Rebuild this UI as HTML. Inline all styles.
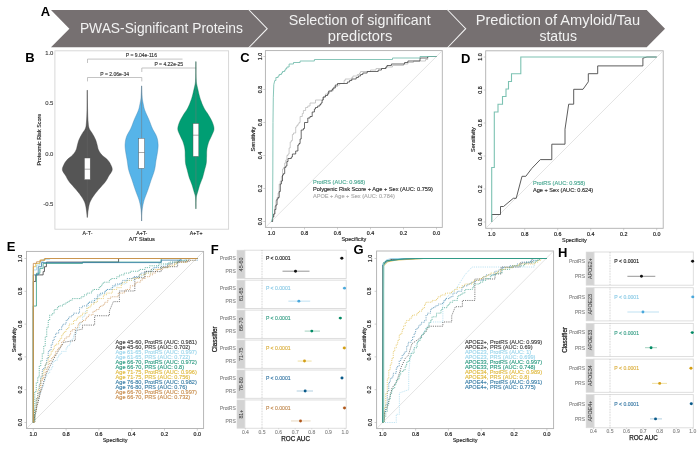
<!DOCTYPE html>
<html><head><meta charset="utf-8"><style>
html,body{margin:0;padding:0;background:#fff;}
body{width:700px;height:449px;overflow:hidden;}
svg{display:block;filter:blur(0.3px);font-family:"Liberation Sans", sans-serif;}
</style></head><body>
<svg width="700" height="449" viewBox="0 0 700 449">
<rect width="700" height="449" fill="#fff"/>
<polygon points="51,10 646.7,10 665,28.7 646.7,47.3 51,47.3 69.4,28.7" fill="#767071"/>
<polyline points="248.6,9.5 267.2,28.7 248.4,48" fill="none" stroke="#f4f4f4" stroke-width="1.05"/>
<polyline points="447.2,9.5 465.7,28.7 447.2,48" fill="none" stroke="#f4f4f4" stroke-width="1.05"/>
<text x="161.4" y="33.2" font-size="14.2" fill="#f2f2f2" text-anchor="middle" textLength="163" lengthAdjust="spacingAndGlyphs">PWAS-Significant Proteins</text>
<text x="359.7" y="25.2" font-size="14.2" fill="#f2f2f2" text-anchor="middle" textLength="142" lengthAdjust="spacingAndGlyphs">Selection of significant</text>
<text x="360" y="41" font-size="14.2" fill="#f2f2f2" text-anchor="middle" textLength="64.5" lengthAdjust="spacingAndGlyphs">predictors</text>
<text x="557.9" y="25.2" font-size="14.2" fill="#f2f2f2" text-anchor="middle" textLength="164.5" lengthAdjust="spacingAndGlyphs">Prediction of Amyloid/Tau</text>
<text x="558.2" y="41" font-size="14.2" fill="#f2f2f2" text-anchor="middle" textLength="37.5" lengthAdjust="spacingAndGlyphs">status</text>
<text x="40.8" y="15.8" font-size="13" font-weight="bold" fill="#000">A</text>
<text x="25.2" y="62.2" font-size="13" font-weight="bold" fill="#000">B</text>
<text x="240.2" y="62.2" font-size="13" font-weight="bold" fill="#000">C</text>
<text x="461" y="62.9" font-size="13" font-weight="bold" fill="#000">D</text>
<text x="6.8" y="251" font-size="13" font-weight="bold" fill="#000">E</text>
<text x="210.8" y="253.6" font-size="13" font-weight="bold" fill="#000">F</text>
<text x="353.5" y="253.6" font-size="13" font-weight="bold" fill="#000">G</text>
<text x="558" y="257.2" font-size="13" font-weight="bold" fill="#000">H</text>
<rect x="54.9" y="50.8" width="173.7" height="178.4" fill="none" stroke="#d4d4d4" stroke-width="0.9"/>
<text x="53.4" y="55" font-size="5.9" fill="#444" text-anchor="end" font-weight="normal" stroke="#444" stroke-width="0.14">1.0</text>
<text x="53.4" y="105.4" font-size="5.9" fill="#444" text-anchor="end" font-weight="normal" stroke="#444" stroke-width="0.14">0.5</text>
<text x="53.4" y="155.7" font-size="5.9" fill="#444" text-anchor="end" font-weight="normal" stroke="#444" stroke-width="0.14">0.0</text>
<text x="53.4" y="206.1" font-size="5.9" fill="#444" text-anchor="end" font-weight="normal" stroke="#444" stroke-width="0.14">-0.5</text>
<text x="40.8" y="139.6" font-size="5.4" fill="#222" text-anchor="middle" font-weight="normal" stroke="#222" stroke-width="0.14" transform="rotate(-90 40.8 139.6)">Proteomic Risk Score</text>
<text x="87.5" y="234.8" font-size="5.2" fill="#222" text-anchor="middle" font-weight="normal" stroke="#222" stroke-width="0.14">A-T-</text>
<text x="141.8" y="234.8" font-size="5.2" fill="#222" text-anchor="middle" font-weight="normal" stroke="#222" stroke-width="0.14">A+T-</text>
<text x="196.2" y="234.8" font-size="5.2" fill="#222" text-anchor="middle" font-weight="normal" stroke="#222" stroke-width="0.14">A+T+</text>
<text x="141.8" y="241.2" font-size="5.6" fill="#222" text-anchor="middle" font-weight="normal" stroke="#222" stroke-width="0.14">A/T Status</text>
<path d="M87.5 63 V59.1 H182.5" fill="none" stroke="#aaa" stroke-width="0.7"/>
<path d="M87.5 81.4 V77.5 H141.8 V81.4" fill="none" stroke="#aaa" stroke-width="0.7"/>
<path d="M141.8 72 V68 H196.2" fill="none" stroke="#aaa" stroke-width="0.7"/>
<text x="141.4" y="57" font-size="5" fill="#333" text-anchor="middle" font-weight="normal" stroke="#333" stroke-width="0.14">P = 9.04e-116</text>
<text x="114.7" y="75.5" font-size="5" fill="#333" text-anchor="middle" font-weight="normal" stroke="#333" stroke-width="0.14">P = 2.06e-34</text>
<text x="168.8" y="66.4" font-size="5" fill="#333" text-anchor="middle" font-weight="normal" stroke="#333" stroke-width="0.14">P = 4.22e-25</text>
<path d="M87.25,90.2 L87.24,91.26 L87.23,92.32 L87.22,93.38 L87.21,94.44 L87.2,95.5 L87.19,96.56 L87.18,97.62 L87.17,98.68 L87.16,99.74 L87.15,100.8 L87.14,101.86 L87.13,102.92 L87.12,103.98 L87.1,105.04 L87.08,106.1 L87.06,107.16 L87.04,108.22 L87.02,109.28 L86.99,110.34 L86.96,111.4 L86.93,112.46 L86.9,113.52 L86.86,114.58 L86.82,115.64 L86.78,116.7 L86.73,117.76 L86.67,118.82 L86.61,119.88 L86.54,120.94 L86.46,122 L86.37,123.06 L86.28,124.12 L86.18,125.18 L86.02,126.24 L85.79,127.3 L85.45,128.36 L84.97,129.42 L84.34,130.48 L83.62,131.54 L82.88,132.6 L82.18,133.66 L81.57,134.72 L80.98,135.78 L80.42,136.84 L79.88,137.9 L79.38,138.96 L78.93,140.02 L78.54,141.08 L78.21,142.14 L77.91,143.2 L77.64,144.26 L77.36,145.32 L77.08,146.38 L76.86,147.44 L76.63,148.5 L76.29,149.56 L75.79,150.62 L75.21,151.68 L74.53,152.74 L73.75,153.8 L72.84,154.86 L71.71,155.92 L70.39,156.98 L69.04,158.04 L67.8,159.1 L66.8,160.16 L65.94,161.22 L65.19,162.28 L64.55,163.34 L64,164.4 L63.5,165.46 L63.02,166.52 L62.64,167.58 L62.4,168.64 L62.37,169.7 L62.6,170.76 L63.09,171.82 L63.77,172.88 L64.52,173.94 L65.26,175 L65.9,176.06 L66.48,177.12 L67.03,178.18 L67.61,179.24 L68.23,180.3 L68.94,181.36 L69.76,182.42 L70.65,183.48 L71.59,184.54 L72.55,185.6 L73.49,186.66 L74.41,187.72 L75.34,188.78 L76.27,189.84 L77.19,190.9 L78.07,191.96 L78.91,193.02 L79.72,194.08 L80.5,195.14 L81.26,196.2 L81.97,197.26 L82.63,198.32 L83.26,199.38 L83.83,200.44 L84.35,201.5 L84.78,202.56 L85.13,203.62 L85.42,204.68 L85.67,205.74 L85.88,206.8 L86.06,207.86 L86.24,208.92 L86.41,209.98 L86.55,211.04 L86.68,212.1 L86.8,213.16 L86.91,214.22 L87.02,215.28 L87.13,216.34 L87.25,217.4 L87.35,217.4 L87.47,216.34 L87.58,215.28 L87.69,214.22 L87.8,213.16 L87.92,212.1 L88.05,211.04 L88.19,209.98 L88.36,208.92 L88.54,207.86 L88.72,206.8 L88.93,205.74 L89.18,204.68 L89.47,203.62 L89.82,202.56 L90.25,201.5 L90.77,200.44 L91.34,199.38 L91.97,198.32 L92.63,197.26 L93.34,196.2 L94.1,195.14 L94.88,194.08 L95.69,193.02 L96.53,191.96 L97.41,190.9 L98.33,189.84 L99.26,188.78 L100.19,187.72 L101.11,186.66 L102.05,185.6 L103.01,184.54 L103.95,183.48 L104.84,182.42 L105.66,181.36 L106.37,180.3 L106.99,179.24 L107.57,178.18 L108.12,177.12 L108.7,176.06 L109.34,175 L110.08,173.94 L110.83,172.88 L111.51,171.82 L112,170.76 L112.23,169.7 L112.2,168.64 L111.96,167.58 L111.58,166.52 L111.1,165.46 L110.6,164.4 L110.05,163.34 L109.41,162.28 L108.66,161.22 L107.8,160.16 L106.8,159.1 L105.56,158.04 L104.21,156.98 L102.89,155.92 L101.76,154.86 L100.85,153.8 L100.07,152.74 L99.39,151.68 L98.81,150.62 L98.31,149.56 L97.97,148.5 L97.74,147.44 L97.52,146.38 L97.24,145.32 L96.96,144.26 L96.69,143.2 L96.39,142.14 L96.06,141.08 L95.67,140.02 L95.22,138.96 L94.72,137.9 L94.18,136.84 L93.62,135.78 L93.03,134.72 L92.42,133.66 L91.72,132.6 L90.98,131.54 L90.26,130.48 L89.63,129.42 L89.15,128.36 L88.81,127.3 L88.58,126.24 L88.42,125.18 L88.32,124.12 L88.23,123.06 L88.14,122 L88.06,120.94 L87.99,119.88 L87.93,118.82 L87.87,117.76 L87.82,116.7 L87.78,115.64 L87.74,114.58 L87.7,113.52 L87.67,112.46 L87.64,111.4 L87.61,110.34 L87.58,109.28 L87.56,108.22 L87.54,107.16 L87.52,106.1 L87.5,105.04 L87.48,103.98 L87.47,102.92 L87.46,101.86 L87.45,100.8 L87.44,99.74 L87.43,98.68 L87.42,97.62 L87.41,96.56 L87.4,95.5 L87.39,94.44 L87.38,93.38 L87.37,92.32 L87.36,91.26 L87.35,90.2Z" fill="#555555" stroke="#3a3a3a" stroke-width="0.4"/>
<path d="M141.55,85.9 L141.5,87.03 L141.45,88.15 L141.41,89.28 L141.37,90.4 L141.33,91.53 L141.28,92.66 L141.23,93.78 L141.17,94.91 L141.11,96.03 L141.03,97.16 L140.94,98.28 L140.8,99.41 L140.62,100.54 L140.41,101.66 L140.18,102.79 L139.97,103.91 L139.75,105.04 L139.52,106.17 L139.27,107.29 L138.99,108.42 L138.65,109.54 L138.26,110.67 L137.82,111.79 L137.34,112.92 L136.84,114.05 L136.32,115.17 L135.79,116.3 L135.27,117.42 L134.76,118.55 L134.29,119.68 L133.83,120.8 L133.4,121.93 L132.97,123.05 L132.55,124.18 L132.12,125.3 L131.67,126.43 L131.2,127.56 L130.71,128.68 L130.15,129.81 L129.53,130.93 L128.87,132.06 L128.22,133.19 L127.59,134.31 L127.04,135.44 L126.58,136.56 L126.21,137.69 L125.9,138.81 L125.65,139.94 L125.45,141.07 L125.3,142.19 L125.18,143.32 L125.09,144.44 L125.06,145.57 L125.1,146.69 L125.18,147.82 L125.3,148.95 L125.44,150.07 L125.59,151.2 L125.74,152.32 L125.92,153.45 L126.11,154.58 L126.32,155.7 L126.53,156.83 L126.74,157.95 L126.94,159.08 L127.13,160.21 L127.31,161.33 L127.46,162.46 L127.61,163.58 L127.76,164.71 L127.91,165.83 L128.09,166.96 L128.28,168.09 L128.51,169.21 L128.79,170.34 L129.1,171.46 L129.45,172.59 L129.82,173.72 L130.22,174.84 L130.63,175.97 L131.04,177.09 L131.45,178.22 L131.84,179.34 L132.22,180.47 L132.59,181.6 L132.96,182.72 L133.33,183.85 L133.69,184.97 L134.06,186.1 L134.43,187.23 L134.8,188.35 L135.18,189.48 L135.58,190.6 L135.99,191.73 L136.41,192.85 L136.85,193.98 L137.28,195.11 L137.71,196.23 L138.13,197.36 L138.53,198.48 L138.91,199.61 L139.26,200.74 L139.57,201.86 L139.84,202.99 L140.09,204.11 L140.31,205.24 L140.51,206.36 L140.7,207.49 L140.86,208.62 L141.01,209.74 L141.13,210.87 L141.24,211.99 L141.34,213.12 L141.42,214.25 L141.47,215.37 L141.5,216.5 L141.52,217.62 L141.52,218.75 L141.53,219.87 L141.55,221 L141.65,221 L141.67,219.87 L141.68,218.75 L141.68,217.62 L141.7,216.5 L141.73,215.37 L141.78,214.25 L141.86,213.12 L141.96,211.99 L142.07,210.87 L142.19,209.74 L142.34,208.62 L142.5,207.49 L142.69,206.36 L142.89,205.24 L143.11,204.11 L143.36,202.99 L143.63,201.86 L143.94,200.74 L144.29,199.61 L144.67,198.48 L145.07,197.36 L145.49,196.23 L145.92,195.11 L146.35,193.98 L146.79,192.85 L147.21,191.73 L147.62,190.6 L148.02,189.48 L148.4,188.35 L148.77,187.23 L149.14,186.1 L149.51,184.97 L149.87,183.85 L150.24,182.72 L150.61,181.6 L150.98,180.47 L151.36,179.34 L151.75,178.22 L152.16,177.09 L152.57,175.97 L152.98,174.84 L153.38,173.72 L153.75,172.59 L154.1,171.46 L154.41,170.34 L154.69,169.21 L154.92,168.09 L155.11,166.96 L155.29,165.83 L155.44,164.71 L155.59,163.58 L155.74,162.46 L155.89,161.33 L156.07,160.21 L156.26,159.08 L156.46,157.95 L156.67,156.83 L156.88,155.7 L157.09,154.58 L157.28,153.45 L157.46,152.32 L157.61,151.2 L157.76,150.07 L157.9,148.95 L158.02,147.82 L158.1,146.69 L158.14,145.57 L158.11,144.44 L158.02,143.32 L157.9,142.19 L157.75,141.07 L157.55,139.94 L157.3,138.81 L156.99,137.69 L156.62,136.56 L156.16,135.44 L155.61,134.31 L154.98,133.19 L154.33,132.06 L153.67,130.93 L153.05,129.81 L152.49,128.68 L152,127.56 L151.53,126.43 L151.08,125.3 L150.65,124.18 L150.23,123.05 L149.8,121.93 L149.37,120.8 L148.91,119.68 L148.44,118.55 L147.93,117.42 L147.41,116.3 L146.88,115.17 L146.36,114.05 L145.86,112.92 L145.38,111.79 L144.94,110.67 L144.55,109.54 L144.21,108.42 L143.93,107.29 L143.68,106.17 L143.45,105.04 L143.23,103.91 L143.02,102.79 L142.79,101.66 L142.58,100.54 L142.4,99.41 L142.26,98.28 L142.17,97.16 L142.09,96.03 L142.03,94.91 L141.97,93.78 L141.92,92.66 L141.87,91.53 L141.83,90.4 L141.79,89.28 L141.75,88.15 L141.7,87.03 L141.65,85.9Z" fill="#56b4e9" stroke="#3d7fa8" stroke-width="0.4"/>
<path d="M195.85,61.6 L195.83,62.83 L195.82,64.05 L195.81,65.28 L195.81,66.51 L195.81,67.73 L195.81,68.96 L195.81,70.19 L195.81,71.41 L195.8,72.64 L195.79,73.87 L195.76,75.09 L195.73,76.32 L195.69,77.55 L195.64,78.77 L195.57,80 L195.49,81.23 L195.36,82.45 L195.18,83.68 L194.95,84.91 L194.69,86.13 L194.41,87.36 L194.13,88.59 L193.84,89.81 L193.57,91.04 L193.29,92.27 L193,93.49 L192.7,94.72 L192.38,95.95 L192.04,97.17 L191.66,98.4 L191.26,99.63 L190.83,100.85 L190.38,102.08 L189.91,103.31 L189.41,104.53 L188.87,105.76 L188.3,106.99 L187.68,108.21 L186.97,109.44 L186.18,110.67 L185.35,111.89 L184.52,113.12 L183.73,114.35 L183,115.57 L182.27,116.8 L181.55,118.03 L180.85,119.25 L180.22,120.48 L179.66,121.71 L179.18,122.93 L178.73,124.16 L178.35,125.39 L178.05,126.61 L177.85,127.84 L177.8,129.07 L177.95,130.29 L178.34,131.52 L178.87,132.75 L179.44,133.97 L179.98,135.2 L180.53,136.43 L181.12,137.65 L181.71,138.88 L182.29,140.11 L182.81,141.33 L183.26,142.56 L183.66,143.79 L184.01,145.01 L184.33,146.24 L184.6,147.47 L184.82,148.69 L184.99,149.92 L185.09,151.15 L185.13,152.37 L185.15,153.6 L185.16,154.83 L185.18,156.05 L185.24,157.28 L185.27,158.51 L185.3,159.73 L185.35,160.96 L185.44,162.19 L185.59,163.41 L185.81,164.64 L186.09,165.87 L186.42,167.09 L186.77,168.32 L187.11,169.55 L187.44,170.77 L187.76,172 L188.06,173.23 L188.37,174.45 L188.7,175.68 L189.05,176.91 L189.44,178.13 L189.89,179.36 L190.37,180.59 L190.87,181.81 L191.35,183.04 L191.81,184.27 L192.23,185.49 L192.62,186.72 L192.98,187.95 L193.34,189.17 L193.68,190.4 L194.02,191.63 L194.38,192.85 L194.76,194.08 L195.12,195.31 L195.39,196.53 L195.54,197.76 L195.64,198.99 L195.71,200.21 L195.75,201.44 L195.77,202.67 L195.79,203.89 L195.8,205.12 L195.81,206.35 L195.82,207.57 L195.85,208.8 L195.95,208.8 L195.98,207.57 L195.99,206.35 L196,205.12 L196.01,203.89 L196.03,202.67 L196.05,201.44 L196.09,200.21 L196.16,198.99 L196.26,197.76 L196.41,196.53 L196.68,195.31 L197.04,194.08 L197.42,192.85 L197.78,191.63 L198.12,190.4 L198.46,189.17 L198.82,187.95 L199.18,186.72 L199.57,185.49 L199.99,184.27 L200.45,183.04 L200.93,181.81 L201.43,180.59 L201.91,179.36 L202.36,178.13 L202.75,176.91 L203.1,175.68 L203.43,174.45 L203.74,173.23 L204.04,172 L204.36,170.77 L204.69,169.55 L205.03,168.32 L205.38,167.09 L205.71,165.87 L205.99,164.64 L206.21,163.41 L206.36,162.19 L206.45,160.96 L206.5,159.73 L206.53,158.51 L206.56,157.28 L206.62,156.05 L206.64,154.83 L206.65,153.6 L206.67,152.37 L206.71,151.15 L206.81,149.92 L206.98,148.69 L207.2,147.47 L207.47,146.24 L207.79,145.01 L208.14,143.79 L208.54,142.56 L208.99,141.33 L209.51,140.11 L210.09,138.88 L210.68,137.65 L211.27,136.43 L211.82,135.2 L212.36,133.97 L212.93,132.75 L213.46,131.52 L213.85,130.29 L214,129.07 L213.95,127.84 L213.75,126.61 L213.45,125.39 L213.07,124.16 L212.62,122.93 L212.14,121.71 L211.58,120.48 L210.95,119.25 L210.25,118.03 L209.53,116.8 L208.8,115.57 L208.07,114.35 L207.28,113.12 L206.45,111.89 L205.62,110.67 L204.83,109.44 L204.12,108.21 L203.5,106.99 L202.93,105.76 L202.39,104.53 L201.89,103.31 L201.42,102.08 L200.97,100.85 L200.54,99.63 L200.14,98.4 L199.76,97.17 L199.42,95.95 L199.1,94.72 L198.8,93.49 L198.51,92.27 L198.23,91.04 L197.96,89.81 L197.67,88.59 L197.39,87.36 L197.11,86.13 L196.85,84.91 L196.62,83.68 L196.44,82.45 L196.31,81.23 L196.23,80 L196.16,78.77 L196.11,77.55 L196.07,76.32 L196.04,75.09 L196.01,73.87 L196,72.64 L195.99,71.41 L195.99,70.19 L195.99,68.96 L195.99,67.73 L195.99,66.51 L195.99,65.28 L195.98,64.05 L195.97,62.83 L195.95,61.6Z" fill="#009e73" stroke="#16694f" stroke-width="0.4"/>
<line x1="87.3" y1="90.2" x2="87.3" y2="217.4" stroke="#666" stroke-width="0.5"/>
<line x1="141.6" y1="85.9" x2="141.6" y2="221" stroke="#777" stroke-width="0.5"/>
<line x1="195.9" y1="61.6" x2="195.9" y2="208.8" stroke="#777" stroke-width="0.5"/>
<rect x="84.4" y="158" width="5.8" height="21.7" fill="#fff" stroke="#555" stroke-width="0.45"/>
<line x1="84.4" y1="169.2" x2="90.2" y2="169.2" stroke="#555" stroke-width="0.5"/>
<rect x="138.7" y="138.3" width="5.8" height="30.1" fill="#fff" stroke="#555" stroke-width="0.45"/>
<line x1="138.7" y1="152.5" x2="144.5" y2="152.5" stroke="#555" stroke-width="0.5"/>
<rect x="193" y="123.5" width="5.8" height="32.9" fill="#fff" stroke="#555" stroke-width="0.45"/>
<line x1="193" y1="135.2" x2="198.8" y2="135.2" stroke="#555" stroke-width="0.5"/>
<rect x="265.4" y="50.6" width="176.9" height="176.8" fill="none" stroke="#b0b0b0" stroke-width="0.9"/>
<line x1="265.9" y1="226.9" x2="441.8" y2="51.1" stroke="#d8d8d8" stroke-width="0.7"/>
<line x1="271.5" y1="227.4" x2="271.5" y2="229.4" stroke="#b0b0b0" stroke-width="0.6"/>
<text x="271.5" y="234.6" font-size="5.3" fill="#1e1e1e" text-anchor="middle" font-weight="normal" stroke="#1e1e1e" stroke-width="0.2">1.0</text>
<line x1="304.5" y1="227.4" x2="304.5" y2="229.4" stroke="#b0b0b0" stroke-width="0.6"/>
<text x="304.5" y="234.6" font-size="5.3" fill="#1e1e1e" text-anchor="middle" font-weight="normal" stroke="#1e1e1e" stroke-width="0.2">0.8</text>
<line x1="337.5" y1="227.4" x2="337.5" y2="229.4" stroke="#b0b0b0" stroke-width="0.6"/>
<text x="337.5" y="234.6" font-size="5.3" fill="#1e1e1e" text-anchor="middle" font-weight="normal" stroke="#1e1e1e" stroke-width="0.2">0.6</text>
<line x1="370.5" y1="227.4" x2="370.5" y2="229.4" stroke="#b0b0b0" stroke-width="0.6"/>
<text x="370.5" y="234.6" font-size="5.3" fill="#1e1e1e" text-anchor="middle" font-weight="normal" stroke="#1e1e1e" stroke-width="0.2">0.4</text>
<line x1="403.5" y1="227.4" x2="403.5" y2="229.4" stroke="#b0b0b0" stroke-width="0.6"/>
<text x="403.5" y="234.6" font-size="5.3" fill="#1e1e1e" text-anchor="middle" font-weight="normal" stroke="#1e1e1e" stroke-width="0.2">0.2</text>
<line x1="436.5" y1="227.4" x2="436.5" y2="229.4" stroke="#b0b0b0" stroke-width="0.6"/>
<text x="436.5" y="234.6" font-size="5.3" fill="#1e1e1e" text-anchor="middle" font-weight="normal" stroke="#1e1e1e" stroke-width="0.2">0.0</text>
<line x1="263.4" y1="221.5" x2="265.4" y2="221.5" stroke="#b0b0b0" stroke-width="0.6"/>
<text x="261.5" y="221.5" font-size="5.3" fill="#1e1e1e" text-anchor="middle" font-weight="normal" stroke="#1e1e1e" stroke-width="0.2" transform="rotate(-90 261.5 221.5)">0.0</text>
<line x1="263.4" y1="188.5" x2="265.4" y2="188.5" stroke="#b0b0b0" stroke-width="0.6"/>
<text x="261.5" y="188.5" font-size="5.3" fill="#1e1e1e" text-anchor="middle" font-weight="normal" stroke="#1e1e1e" stroke-width="0.2" transform="rotate(-90 261.5 188.5)">0.2</text>
<line x1="263.4" y1="155.5" x2="265.4" y2="155.5" stroke="#b0b0b0" stroke-width="0.6"/>
<text x="261.5" y="155.5" font-size="5.3" fill="#1e1e1e" text-anchor="middle" font-weight="normal" stroke="#1e1e1e" stroke-width="0.2" transform="rotate(-90 261.5 155.5)">0.4</text>
<line x1="263.4" y1="122.5" x2="265.4" y2="122.5" stroke="#b0b0b0" stroke-width="0.6"/>
<text x="261.5" y="122.5" font-size="5.3" fill="#1e1e1e" text-anchor="middle" font-weight="normal" stroke="#1e1e1e" stroke-width="0.2" transform="rotate(-90 261.5 122.5)">0.6</text>
<line x1="263.4" y1="89.5" x2="265.4" y2="89.5" stroke="#b0b0b0" stroke-width="0.6"/>
<text x="261.5" y="89.5" font-size="5.3" fill="#1e1e1e" text-anchor="middle" font-weight="normal" stroke="#1e1e1e" stroke-width="0.2" transform="rotate(-90 261.5 89.5)">0.8</text>
<line x1="263.4" y1="56.5" x2="265.4" y2="56.5" stroke="#b0b0b0" stroke-width="0.6"/>
<text x="261.5" y="56.5" font-size="5.3" fill="#1e1e1e" text-anchor="middle" font-weight="normal" stroke="#1e1e1e" stroke-width="0.2" transform="rotate(-90 261.5 56.5)">1.0</text>
<text x="254.6" y="139" font-size="5.5" fill="#222" text-anchor="middle" font-weight="normal" stroke="#222" stroke-width="0.14" transform="rotate(-90 254.6 139)">Sensitivity</text>
<text x="353.85" y="240.8" font-size="5.5" fill="#222" text-anchor="middle" font-weight="normal" stroke="#222" stroke-width="0.14">Specificity</text>
<path d="M271.5 221.5L272.6 221.5L272.6 217L273.7 217L273.7 214L274.8 214L274.8 206.5L275.9 206.5L275.9 200.5L277 200.5L277 197.5L278.1 197.5L278.1 193L279.2 193L279.2 184L280.3 184L280.3 181L281.4 181L281.4 176.5L282.5 176.5L282.5 169L283.6 169L283.6 167.5L284.7 167.5L284.7 163L285.8 163L285.8 160L286.9 160L286.9 155.5L288 155.5L288 154L289.1 154L289.1 148L290.2 148L290.2 142L291.3 142L291.3 140.5L292.4 140.5L292.4 134.5L293.5 134.5L293.5 133L295.7 133L295.7 127L296.8 127L296.8 125.5L297.9 125.5L297.9 124L299 124L299 122.5L300.1 122.5L300.1 116.5L302.3 116.5L302.3 113.5L303.4 113.5L303.4 110.5L305.6 110.5L305.6 107.5L307.8 107.5L307.8 106L310 106L310 103L315.5 103L315.5 100L323.2 100L323.2 97L325.4 97L325.4 94L327.6 94L327.6 92.5L329.8 92.5L329.8 91L333.1 91L333.1 88L334.2 88L334.2 86.5L337.5 86.5L337.5 85L339.7 85L339.7 83.5L344.1 83.5L344.1 80.5L345.2 80.5L345.2 79L351.8 79L351.8 77.5L352.9 77.5L352.9 76L357.3 76L357.3 74.5L359.5 74.5L359.5 73L360.6 73L360.6 71.5L370.5 71.5L370.5 70L376 70L376 68.5L385.9 68.5L385.9 67L392.5 67L392.5 65.5L403.5 65.5L403.5 64L407.9 64L407.9 62.5L413.4 62.5L413.4 61L425.5 61L425.5 59.5L427.7 59.5L427.7 56.5L436.5 56.5" fill="none" stroke="#b8b8b8" stroke-width="0.75"/>
<path d="M271.5 221.5L272.6 221.5L272.6 217L273.7 217L273.7 214L274.8 214L274.8 209.5L275.9 209.5L275.9 205L277 205L277 199L278.1 199L278.1 197.5L279.2 197.5L279.2 191.5L280.3 191.5L280.3 184L281.4 184L281.4 181L282.5 181L282.5 175L283.6 175L283.6 173.5L284.7 173.5L284.7 167.5L285.8 167.5L285.8 166L286.9 166L286.9 161.5L288 161.5L288 158.5L291.3 158.5L291.3 157L292.4 157L292.4 154L295.7 154L295.7 151L297.9 151L297.9 145L299 145L299 143.5L300.1 143.5L300.1 139L301.2 139L301.2 130L303.4 130L303.4 128.5L304.5 128.5L304.5 122.5L307.8 122.5L307.8 118L310 118L310 116.5L312.2 116.5L312.2 112L314.4 112L314.4 109L315.5 109L315.5 107.5L317.7 107.5L317.7 106L319.9 106L319.9 104.5L321 104.5L321 103L322.1 103L322.1 100L323.2 100L323.2 97L325.4 97L325.4 95.5L327.6 95.5L327.6 94L328.7 94L328.7 91L332 91L332 89.5L333.1 89.5L333.1 88L335.3 88L335.3 85L337.5 85L337.5 83.5L347.4 83.5L347.4 82L349.6 82L349.6 80.5L351.8 80.5L351.8 79L356.2 79L356.2 77.5L358.4 77.5L358.4 76L360.6 76L360.6 74.5L362.8 74.5L362.8 73L367.2 73L367.2 71.5L378.2 71.5L378.2 70L381.5 70L381.5 68.5L385.9 68.5L385.9 67L387 67L387 65.5L391.4 65.5L391.4 64L404.6 64L404.6 62.5L407.9 62.5L407.9 61L420 61L420 58L427.7 58L427.7 56.5L436.5 56.5" fill="none" stroke="#3a3a3a" stroke-width="0.75"/>
<path d="M271.5 221.5L272.49 218.2L272.82 172L272.99 122.5L273.31 97.75L273.81 84.55L274.8 80.43L275.9 80.5L275.9 77.5L278.1 77.5L278.1 76L279.2 76L279.2 74.5L281.4 74.5L281.4 73L282.5 73L282.5 71.5L284.7 71.5L284.7 70L285.8 70L285.8 68.5L286.9 68.5L286.9 67L289.1 67L289.1 64L293.5 64L293.5 62.5L300.1 62.5L300.1 61L314.4 61L314.4 59.5L392.5 59.5L392.5 58L420 58L420 56.5L436.5 56.5" fill="none" stroke="#72bcac" stroke-width="0.85"/>
<text x="313" y="184.3" font-size="5.6" fill="#4aa892" text-anchor="start" font-weight="normal" stroke="#4aa892" stroke-width="0.14">ProtRS (AUC: 0.968)</text>
<text x="313" y="190.9" font-size="5.6" fill="#2a2a2a" text-anchor="start" font-weight="normal" stroke="#2a2a2a" stroke-width="0.14" textLength="120" lengthAdjust="spacingAndGlyphs">Polygenic Risk Score + Age + Sex (AUC: 0.759)</text>
<text x="313" y="197.5" font-size="5.6" fill="#aaaaaa" text-anchor="start" font-weight="normal" stroke="#aaaaaa" stroke-width="0.14">APOE + Age + Sex (AUC: 0.784)</text>
<rect x="485.7" y="50.8" width="177.5" height="177.5" fill="none" stroke="#b0b0b0" stroke-width="0.9"/>
<line x1="486.2" y1="227.8" x2="662.7" y2="51.3" stroke="#d8d8d8" stroke-width="0.7"/>
<line x1="491.7" y1="228.3" x2="491.7" y2="230.3" stroke="#b0b0b0" stroke-width="0.6"/>
<text x="491.7" y="235.6" font-size="5.3" fill="#1e1e1e" text-anchor="middle" font-weight="normal" stroke="#1e1e1e" stroke-width="0.2">1.0</text>
<line x1="524.7" y1="228.3" x2="524.7" y2="230.3" stroke="#b0b0b0" stroke-width="0.6"/>
<text x="524.7" y="235.6" font-size="5.3" fill="#1e1e1e" text-anchor="middle" font-weight="normal" stroke="#1e1e1e" stroke-width="0.2">0.8</text>
<line x1="557.7" y1="228.3" x2="557.7" y2="230.3" stroke="#b0b0b0" stroke-width="0.6"/>
<text x="557.7" y="235.6" font-size="5.3" fill="#1e1e1e" text-anchor="middle" font-weight="normal" stroke="#1e1e1e" stroke-width="0.2">0.6</text>
<line x1="590.7" y1="228.3" x2="590.7" y2="230.3" stroke="#b0b0b0" stroke-width="0.6"/>
<text x="590.7" y="235.6" font-size="5.3" fill="#1e1e1e" text-anchor="middle" font-weight="normal" stroke="#1e1e1e" stroke-width="0.2">0.4</text>
<line x1="623.7" y1="228.3" x2="623.7" y2="230.3" stroke="#b0b0b0" stroke-width="0.6"/>
<text x="623.7" y="235.6" font-size="5.3" fill="#1e1e1e" text-anchor="middle" font-weight="normal" stroke="#1e1e1e" stroke-width="0.2">0.2</text>
<line x1="656.7" y1="228.3" x2="656.7" y2="230.3" stroke="#b0b0b0" stroke-width="0.6"/>
<text x="656.7" y="235.6" font-size="5.3" fill="#1e1e1e" text-anchor="middle" font-weight="normal" stroke="#1e1e1e" stroke-width="0.2">0.0</text>
<line x1="483.7" y1="222" x2="485.7" y2="222" stroke="#b0b0b0" stroke-width="0.6"/>
<text x="482.3" y="222" font-size="5.3" fill="#1e1e1e" text-anchor="middle" font-weight="normal" stroke="#1e1e1e" stroke-width="0.2" transform="rotate(-90 482.3 222)">0.0</text>
<line x1="483.7" y1="189" x2="485.7" y2="189" stroke="#b0b0b0" stroke-width="0.6"/>
<text x="482.3" y="189" font-size="5.3" fill="#1e1e1e" text-anchor="middle" font-weight="normal" stroke="#1e1e1e" stroke-width="0.2" transform="rotate(-90 482.3 189)">0.2</text>
<line x1="483.7" y1="156" x2="485.7" y2="156" stroke="#b0b0b0" stroke-width="0.6"/>
<text x="482.3" y="156" font-size="5.3" fill="#1e1e1e" text-anchor="middle" font-weight="normal" stroke="#1e1e1e" stroke-width="0.2" transform="rotate(-90 482.3 156)">0.4</text>
<line x1="483.7" y1="123" x2="485.7" y2="123" stroke="#b0b0b0" stroke-width="0.6"/>
<text x="482.3" y="123" font-size="5.3" fill="#1e1e1e" text-anchor="middle" font-weight="normal" stroke="#1e1e1e" stroke-width="0.2" transform="rotate(-90 482.3 123)">0.6</text>
<line x1="483.7" y1="90" x2="485.7" y2="90" stroke="#b0b0b0" stroke-width="0.6"/>
<text x="482.3" y="90" font-size="5.3" fill="#1e1e1e" text-anchor="middle" font-weight="normal" stroke="#1e1e1e" stroke-width="0.2" transform="rotate(-90 482.3 90)">0.8</text>
<line x1="483.7" y1="57" x2="485.7" y2="57" stroke="#b0b0b0" stroke-width="0.6"/>
<text x="482.3" y="57" font-size="5.3" fill="#1e1e1e" text-anchor="middle" font-weight="normal" stroke="#1e1e1e" stroke-width="0.2" transform="rotate(-90 482.3 57)">1.0</text>
<text x="474.6" y="139.55" font-size="5.5" fill="#222" text-anchor="middle" font-weight="normal" stroke="#222" stroke-width="0.14" transform="rotate(-90 474.6 139.55)">Sensitivity</text>
<text x="574.45" y="241.9" font-size="5.5" fill="#222" text-anchor="middle" font-weight="normal" stroke="#222" stroke-width="0.14">Specificity</text>
<path d="M491.7 222L491.7 214.5L500.5 214.5L500.5 206.5L503.5 206.5L513.3 198.3L516.2 198.3L522 176.3L525.8 176.3L531.8 168.4L540.3 159.6L551.8 159.6L551.8 144.2L565 144.2L565 129.2L568.7 104.2L573.7 104.2L573.7 89.3L583 89.3L588.3 81.8L588.3 73.7L597.7 73.7L597.7 65.9L642.9 65.9L642.9 58.1L647 57L656.7 57" fill="none" stroke="#4a4a4a" stroke-width="0.9"/>
<path d="M491.7 222L491.7 167.5L494.3 167.5L494.3 112L498 112L498 104.2L502.5 104.2L502.5 96.5L506 96.5L506 89L508.5 89L508.5 81.5L511.5 81.5L511.5 73.8L520.8 73.8L520.8 57L656.7 57" fill="none" stroke="#7cc2b2" stroke-width="1.1"/>
<text x="533" y="185.2" font-size="5.6" fill="#4aa892" text-anchor="start" font-weight="normal" stroke="#4aa892" stroke-width="0.14">ProtRS (AUC: 0.958)</text>
<text x="533" y="192.1" font-size="5.6" fill="#2a2a2a" text-anchor="start" font-weight="normal" stroke="#2a2a2a" stroke-width="0.14">Age + Sex (AUC: 0.624)</text>
<rect x="26.5" y="251.4" width="177.1" height="177.1" fill="none" stroke="#b0b0b0" stroke-width="0.9"/>
<line x1="27" y1="428" x2="203.1" y2="251.9" stroke="#d8d8d8" stroke-width="0.7"/>
<line x1="33.3" y1="428.5" x2="33.3" y2="430.5" stroke="#b0b0b0" stroke-width="0.6"/>
<text x="33.3" y="436.2" font-size="5.3" fill="#1e1e1e" text-anchor="middle" font-weight="normal" stroke="#1e1e1e" stroke-width="0.2">1.0</text>
<line x1="66.1" y1="428.5" x2="66.1" y2="430.5" stroke="#b0b0b0" stroke-width="0.6"/>
<text x="66.1" y="436.2" font-size="5.3" fill="#1e1e1e" text-anchor="middle" font-weight="normal" stroke="#1e1e1e" stroke-width="0.2">0.8</text>
<line x1="98.9" y1="428.5" x2="98.9" y2="430.5" stroke="#b0b0b0" stroke-width="0.6"/>
<text x="98.9" y="436.2" font-size="5.3" fill="#1e1e1e" text-anchor="middle" font-weight="normal" stroke="#1e1e1e" stroke-width="0.2">0.6</text>
<line x1="131.7" y1="428.5" x2="131.7" y2="430.5" stroke="#b0b0b0" stroke-width="0.6"/>
<text x="131.7" y="436.2" font-size="5.3" fill="#1e1e1e" text-anchor="middle" font-weight="normal" stroke="#1e1e1e" stroke-width="0.2">0.4</text>
<line x1="164.5" y1="428.5" x2="164.5" y2="430.5" stroke="#b0b0b0" stroke-width="0.6"/>
<text x="164.5" y="436.2" font-size="5.3" fill="#1e1e1e" text-anchor="middle" font-weight="normal" stroke="#1e1e1e" stroke-width="0.2">0.2</text>
<line x1="197.3" y1="428.5" x2="197.3" y2="430.5" stroke="#b0b0b0" stroke-width="0.6"/>
<text x="197.3" y="436.2" font-size="5.3" fill="#1e1e1e" text-anchor="middle" font-weight="normal" stroke="#1e1e1e" stroke-width="0.2">0.0</text>
<line x1="24.5" y1="422.5" x2="26.5" y2="422.5" stroke="#b0b0b0" stroke-width="0.6"/>
<text x="21.7" y="422.5" font-size="5.3" fill="#1e1e1e" text-anchor="middle" font-weight="normal" stroke="#1e1e1e" stroke-width="0.2" transform="rotate(-90 21.7 422.5)">0.0</text>
<line x1="24.5" y1="389.7" x2="26.5" y2="389.7" stroke="#b0b0b0" stroke-width="0.6"/>
<text x="21.7" y="389.7" font-size="5.3" fill="#1e1e1e" text-anchor="middle" font-weight="normal" stroke="#1e1e1e" stroke-width="0.2" transform="rotate(-90 21.7 389.7)">0.2</text>
<line x1="24.5" y1="356.9" x2="26.5" y2="356.9" stroke="#b0b0b0" stroke-width="0.6"/>
<text x="21.7" y="356.9" font-size="5.3" fill="#1e1e1e" text-anchor="middle" font-weight="normal" stroke="#1e1e1e" stroke-width="0.2" transform="rotate(-90 21.7 356.9)">0.4</text>
<line x1="24.5" y1="324.1" x2="26.5" y2="324.1" stroke="#b0b0b0" stroke-width="0.6"/>
<text x="21.7" y="324.1" font-size="5.3" fill="#1e1e1e" text-anchor="middle" font-weight="normal" stroke="#1e1e1e" stroke-width="0.2" transform="rotate(-90 21.7 324.1)">0.6</text>
<line x1="24.5" y1="291.3" x2="26.5" y2="291.3" stroke="#b0b0b0" stroke-width="0.6"/>
<text x="21.7" y="291.3" font-size="5.3" fill="#1e1e1e" text-anchor="middle" font-weight="normal" stroke="#1e1e1e" stroke-width="0.2" transform="rotate(-90 21.7 291.3)">0.8</text>
<line x1="24.5" y1="258.5" x2="26.5" y2="258.5" stroke="#b0b0b0" stroke-width="0.6"/>
<text x="21.7" y="258.5" font-size="5.3" fill="#1e1e1e" text-anchor="middle" font-weight="normal" stroke="#1e1e1e" stroke-width="0.2" transform="rotate(-90 21.7 258.5)">1.0</text>
<text x="16" y="339.95" font-size="5.5" fill="#222" text-anchor="middle" font-weight="normal" stroke="#222" stroke-width="0.14" transform="rotate(-90 16 339.95)">Sensitivity</text>
<text x="115.05" y="442" font-size="5.5" fill="#222" text-anchor="middle" font-weight="normal" stroke="#222" stroke-width="0.14">Specificity</text>
<path d="M33.3 422.5L34.79 422.5L34.79 413.39L36.28 413.39L36.28 402.46L37.77 402.46L37.77 398.81L39.26 398.81L39.26 393.34L40.75 393.34L40.75 389.7L42.25 389.7L42.25 386.06L43.74 386.06L43.74 380.59L45.23 380.59L45.23 376.94L46.72 376.94L46.72 373.3L49.7 373.3L49.7 369.66L51.19 369.66L51.19 367.83L52.68 367.83L52.68 362.37L54.17 362.37L54.17 360.54L57.15 360.54L57.15 356.9L58.65 356.9L58.65 355.08L60.14 355.08L60.14 353.26L61.63 353.26L61.63 351.43L66.1 351.43L66.1 347.79L67.59 347.79L67.59 345.97L69.08 345.97L69.08 344.14L70.57 344.14L70.57 340.5L72.06 340.5L72.06 338.68L73.55 338.68L73.55 335.03L75.05 335.03L75.05 333.21L76.54 333.21L76.54 327.74L79.52 327.74L79.52 324.1L81.01 324.1L81.01 322.28L82.5 322.28L82.5 316.81L83.99 316.81L83.99 314.99L85.48 314.99L85.48 311.34L86.97 311.34L86.97 305.88L88.46 305.88L88.46 302.23L91.45 302.23L91.45 300.41L95.92 300.41L95.92 298.59L98.9 298.59L98.9 294.94L101.88 294.94L101.88 293.12L104.86 293.12L104.86 291.3L106.35 291.3L106.35 289.48L110.83 289.48L110.83 287.66L113.81 287.66L113.81 285.83L118.28 285.83L118.28 284.01L125.74 284.01L125.74 280.37L134.68 280.37L134.68 276.72L142.14 276.72L142.14 274.9L145.12 274.9L145.12 273.08L151.08 273.08L151.08 271.26L152.57 271.26L152.57 267.61L157.05 267.61L157.05 265.79L165.99 265.79L165.99 263.97L177.92 263.97L177.92 262.14L185.37 262.14L185.37 258.5L197.3 258.5" fill="none" stroke="#9cd6ec" stroke-width="0.7" stroke-dasharray="1.1 1.1"/>
<path d="M33.3 422.5L34.79 422.5L34.79 409.74L36.28 409.74L36.28 398.81L37.77 398.81L37.77 389.7L39.26 389.7L39.26 386.06L40.75 386.06L40.75 378.77L42.25 378.77L42.25 373.3L43.74 373.3L43.74 369.66L45.23 369.66L45.23 364.19L46.72 364.19L46.72 362.37L48.21 362.37L48.21 356.9L49.7 356.9L49.7 355.08L51.19 355.08L51.19 351.43L52.68 351.43L52.68 349.61L54.17 349.61L54.17 345.97L55.66 345.97L55.66 344.14L58.65 344.14L58.65 340.5L60.14 340.5L60.14 338.68L61.63 338.68L61.63 335.03L63.12 335.03L63.12 333.21L64.61 333.21L64.61 331.39L66.1 331.39L66.1 329.57L67.59 329.57L67.59 327.74L69.08 327.74L69.08 324.1L73.55 324.1L73.55 320.46L76.54 320.46L76.54 318.63L78.03 318.63L78.03 316.81L81.01 316.81L81.01 314.99L82.5 314.99L82.5 313.17L86.97 313.17L86.97 307.7L89.95 307.7L89.95 305.88L91.45 305.88L91.45 304.06L94.43 304.06L94.43 302.23L97.41 302.23L97.41 298.59L103.37 298.59L103.37 294.94L106.35 294.94L106.35 293.12L112.32 293.12L112.32 289.48L116.79 289.48L116.79 287.66L121.26 287.66L121.26 284.01L122.75 284.01L122.75 282.19L127.23 282.19L127.23 280.37L131.7 280.37L131.7 278.54L139.15 278.54L139.15 274.9L145.12 274.9L145.12 273.08L151.08 273.08L151.08 269.43L160.03 269.43L160.03 267.61L168.97 267.61L168.97 265.79L174.94 265.79L174.94 263.97L176.43 263.97L176.43 262.14L186.86 262.14L186.86 258.5L197.3 258.5" fill="none" stroke="#e0ba40" stroke-width="0.7" stroke-dasharray="1.1 1.1"/>
<path d="M33.3 422.5L34.79 422.5L34.79 409.74L36.28 409.74L36.28 398.81L37.77 398.81L37.77 393.34L39.26 393.34L39.26 384.23L40.75 384.23L40.75 376.94L42.25 376.94L42.25 369.66L43.74 369.66L43.74 367.83L45.23 367.83L45.23 364.19L46.72 364.19L46.72 358.72L48.21 358.72L48.21 351.43L49.7 351.43L49.7 349.61L51.19 349.61L51.19 344.14L52.68 344.14L52.68 340.5L54.17 340.5L54.17 336.86L55.66 336.86L55.66 333.21L58.65 333.21L58.65 329.57L61.63 329.57L61.63 325.92L63.12 325.92L63.12 324.1L66.1 324.1L66.1 320.46L67.59 320.46L67.59 318.63L69.08 318.63L69.08 316.81L72.06 316.81L72.06 314.99L73.55 314.99L73.55 313.17L79.52 313.17L79.52 307.7L82.5 307.7L82.5 305.88L86.97 305.88L86.97 304.06L88.46 304.06L88.46 302.23L94.43 302.23L94.43 298.59L97.41 298.59L97.41 294.94L100.39 294.94L100.39 293.12L104.86 293.12L104.86 291.3L106.35 291.3L106.35 289.48L112.32 289.48L112.32 285.83L115.3 285.83L115.3 284.01L121.26 284.01L121.26 282.19L122.75 282.19L122.75 280.37L127.23 280.37L127.23 278.54L133.19 278.54L133.19 276.72L139.15 276.72L139.15 274.9L140.65 274.9L140.65 273.08L145.12 273.08L145.12 271.26L151.08 271.26L151.08 269.43L154.06 269.43L154.06 267.61L167.48 267.61L167.48 263.97L171.95 263.97L171.95 262.14L179.41 262.14L179.41 260.32L197.3 260.32L197.3 258.5" fill="none" stroke="#3a7fa8" stroke-width="0.7" stroke-dasharray="1.1 1.1"/>
<path d="M33.3 422.5L34.79 422.5L34.79 411.57L36.28 411.57L36.28 404.28L37.77 404.28L37.77 396.99L39.26 396.99L39.26 391.52L40.75 391.52L40.75 380.59L42.25 380.59L42.25 378.77L43.74 378.77L43.74 375.12L45.23 375.12L45.23 371.48L46.72 371.48L46.72 367.83L48.21 367.83L48.21 364.19L49.7 364.19L49.7 360.54L51.19 360.54L51.19 358.72L52.68 358.72L52.68 356.9L54.17 356.9L54.17 355.08L55.66 355.08L55.66 351.43L57.15 351.43L57.15 349.61L58.65 349.61L58.65 347.79L60.14 347.79L60.14 345.97L61.63 345.97L61.63 342.32L63.12 342.32L63.12 340.5L64.61 340.5L64.61 338.68L66.1 338.68L66.1 336.86L69.08 336.86L69.08 335.03L70.57 335.03L70.57 331.39L72.06 331.39L72.06 329.57L75.05 329.57L75.05 327.74L78.03 327.74L78.03 324.1L79.52 324.1L79.52 322.28L82.5 322.28L82.5 320.46L85.48 320.46L85.48 318.63L86.97 318.63L86.97 316.81L88.46 316.81L88.46 314.99L92.94 314.99L92.94 311.34L95.92 311.34L95.92 309.52L98.9 309.52L98.9 307.7L100.39 307.7L100.39 305.88L103.37 305.88L103.37 304.06L104.86 304.06L104.86 302.23L107.85 302.23L107.85 298.59L110.83 298.59L110.83 296.77L118.28 296.77L118.28 293.12L124.25 293.12L124.25 291.3L125.74 291.3L125.74 289.48L130.21 289.48L130.21 285.83L134.68 285.83L134.68 284.01L136.17 284.01L136.17 282.19L140.65 282.19L140.65 280.37L142.14 280.37L142.14 278.54L145.12 278.54L145.12 276.72L149.59 276.72L149.59 274.9L152.57 274.9L152.57 273.08L155.55 273.08L155.55 271.26L157.05 271.26L157.05 269.43L163.01 269.43L163.01 267.61L167.48 267.61L167.48 265.79L168.97 265.79L168.97 263.97L174.94 263.97L174.94 262.14L186.86 262.14L186.86 260.32L195.81 260.32L195.81 258.5L197.3 258.5" fill="none" stroke="#c88c4a" stroke-width="0.7" stroke-dasharray="1.1 1.1"/>
<path d="M33.3 422.5L33.3 420.68L34.79 420.68L34.79 391.52L36.28 391.52L36.28 382.41L37.77 382.41L37.77 376.94L39.26 376.94L39.26 366.01L40.75 366.01L40.75 360.54L42.25 360.54L42.25 353.26L43.74 353.26L43.74 345.97L45.23 345.97L45.23 336.86L46.72 336.86L46.72 327.74L48.21 327.74L48.21 320.46L49.7 320.46L49.7 314.99L52.68 314.99L52.68 313.17L54.17 313.17L54.17 309.52L57.15 309.52L57.15 307.7L58.65 307.7L58.65 305.88L63.12 305.88L63.12 304.06L66.1 304.06L66.1 302.23L69.08 302.23L69.08 300.41L72.06 300.41L72.06 298.59L81.01 298.59L81.01 296.77L83.99 296.77L83.99 294.94L86.97 294.94L86.97 293.12L91.45 293.12L91.45 291.3L92.94 291.3L92.94 289.48L98.9 289.48L98.9 287.66L100.39 287.66L100.39 285.83L101.88 285.83L101.88 284.01L103.37 284.01L103.37 282.19L109.34 282.19L109.34 280.37L110.83 280.37L110.83 278.54L116.79 278.54L116.79 276.72L119.77 276.72L119.77 274.9L124.25 274.9L124.25 273.08L130.21 273.08L130.21 271.26L139.15 271.26L139.15 269.43L145.12 269.43L145.12 267.61L149.59 267.61L149.59 265.79L158.54 265.79L158.54 263.97L168.97 263.97L168.97 262.14L177.92 262.14L177.92 260.32L186.86 260.32L186.86 258.5L197.3 258.5" fill="none" stroke="#2f9c84" stroke-width="0.7" stroke-dasharray="1.1 1.1"/>
<path d="M33.3 422.5L36.25 409.38L40.84 391.34L46.42 373.3L52.98 360.18L60.69 347.06L64.13 342.14L75.28 340.5L75.28 330.66L82.5 329.02L82.5 325.08L94.64 325.08L94.64 315.74L109.4 315.74L109.4 310.98L113.33 301.63L119.4 301.63L119.4 290.97L134.82 290.97L134.82 277.69L144.82 277.69L144.82 271.62L161.22 271.62L161.22 266.7L177.62 266.7L177.62 261.78L189.1 261.78L189.1 258.5L197.3 258.5" fill="none" stroke="#3d3d3d" stroke-width="0.7" stroke-dasharray="1.1 1.1"/>
<path d="M33.3 422.5L33.3 281.46L35.76 281.46L35.76 274.9L43.14 274.9L43.14 271.62L44.45 271.62L44.45 266.7L46.42 266.7L46.42 262.11L118.58 262.11L118.58 258.5L197.3 258.5" fill="none" stroke="#3d3d3d" stroke-width="0.8"/>
<path d="M33.3 422.5L33.3 269.98L36.58 269.98L36.58 265.06L39.86 265.06L39.86 261.78L43.14 261.78L43.14 259.32L49.7 259.32L49.7 258.5L197.3 258.5" fill="none" stroke="#9cd6ec" stroke-width="0.8"/>
<path d="M33.3 422.5L33.3 306.06L36.42 306.06L36.42 273.26L39.86 273.26L39.86 268.34L43.14 268.34L43.14 263.42L46.42 263.42L82.5 263.42L82.5 262.11L161.22 262.11L161.22 258.5L197.3 258.5" fill="none" stroke="#2f9c84" stroke-width="0.8"/>
<path d="M33.3 422.5L33.3 274.9L38.22 274.9L38.22 266.7L41.5 266.7L41.5 262.6L161.22 262.6L161.22 260.14L180.9 260.14L180.9 258.5L197.3 258.5" fill="none" stroke="#3a7fa8" stroke-width="0.8"/>
<path d="M33.3 422.5L33.3 266.7L35.76 266.7L35.76 263.42L39.86 263.42L39.86 260.14L44.78 260.14L44.78 258.5L197.3 258.5" fill="none" stroke="#e0ba40" stroke-width="0.8"/>
<path d="M33.3 422.5L33.3 263.42L36.58 263.42L36.58 261.78L40.68 261.78L40.68 260.14L44.78 260.14L44.78 258.5L197.3 258.5" fill="none" stroke="#c88c4a" stroke-width="0.8"/>
<text x="115.6" y="344.3" font-size="5.6" fill="#3d3d3d" text-anchor="start" font-weight="normal" stroke="#3d3d3d" stroke-width="0.14">Age 45-60, ProtRS (AUC: 0.981)</text>
<text x="115.6" y="349.24" font-size="5.6" fill="#3d3d3d" text-anchor="start" font-weight="normal" stroke="#3d3d3d" stroke-width="0.14">Age 45-60, PRS (AUC: 0.702)</text>
<text x="115.6" y="354.18" font-size="5.6" fill="#9cd6ec" text-anchor="start" font-weight="normal" stroke="#9cd6ec" stroke-width="0.14">Age 61-65, ProtRS (AUC: 0.997)</text>
<text x="115.6" y="359.12" font-size="5.6" fill="#9cd6ec" text-anchor="start" font-weight="normal" stroke="#9cd6ec" stroke-width="0.14">Age 61-65, PRS (AUC: 0.722)</text>
<text x="115.6" y="364.06" font-size="5.6" fill="#2f9c84" text-anchor="start" font-weight="normal" stroke="#2f9c84" stroke-width="0.14">Age 66-70, ProtRS (AUC: 0.972)</text>
<text x="115.6" y="369" font-size="5.6" fill="#2f9c84" text-anchor="start" font-weight="normal" stroke="#2f9c84" stroke-width="0.14">Age 66-70, PRS (AUC: 0.8)</text>
<text x="115.6" y="373.94" font-size="5.6" fill="#e0ba40" text-anchor="start" font-weight="normal" stroke="#e0ba40" stroke-width="0.14">Age 71-75, ProtRS (AUC: 0.996)</text>
<text x="115.6" y="378.88" font-size="5.6" fill="#e0ba40" text-anchor="start" font-weight="normal" stroke="#e0ba40" stroke-width="0.14">Age 71-75, PRS (AUC: 0.756)</text>
<text x="115.6" y="383.82" font-size="5.6" fill="#3a7fa8" text-anchor="start" font-weight="normal" stroke="#3a7fa8" stroke-width="0.14">Age 76-80, ProtRS (AUC: 0.982)</text>
<text x="115.6" y="388.76" font-size="5.6" fill="#3a7fa8" text-anchor="start" font-weight="normal" stroke="#3a7fa8" stroke-width="0.14">Age 76-80, PRS (AUC: 0.76)</text>
<text x="115.6" y="393.7" font-size="5.6" fill="#c88c4a" text-anchor="start" font-weight="normal" stroke="#c88c4a" stroke-width="0.14">Age 66-70, ProtRS (AUC: 0.997)</text>
<text x="115.6" y="398.64" font-size="5.6" fill="#c88c4a" text-anchor="start" font-weight="normal" stroke="#c88c4a" stroke-width="0.14">Age 66-70, PRS (AUC: 0.732)</text>
<rect x="244.8" y="250.2" width="101.4" height="28.3" fill="#fff" stroke="#dadada" stroke-width="0.9"/>
<rect x="237" y="250.2" width="7.8" height="28.3" fill="#d3d3d3" stroke="#dadada" stroke-width="0.6"/>
<text x="242.7" y="264.35" font-size="5.3" fill="#484848" text-anchor="middle" font-weight="normal" stroke="#484848" stroke-width="0.08" transform="rotate(-90 242.7 264.35)">45-60</text>
<line x1="262" y1="250.2" x2="262" y2="278.5" stroke="#999" stroke-width="0.5" stroke-dasharray="0.8 0.8"/>
<text x="235.8" y="260" font-size="5" fill="#8a8a8a" text-anchor="end" font-weight="normal" stroke="#8a8a8a" stroke-width="0.14">ProtRS</text>
<text x="235.8" y="273" font-size="5" fill="#8a8a8a" text-anchor="end" font-weight="normal" stroke="#8a8a8a" stroke-width="0.14">PRS</text>
<text x="265.9" y="260" font-size="5.1" fill="#222222" text-anchor="start" font-weight="normal" stroke="#222222" stroke-width="0.14">P &lt; 0.0001</text>
<line x1="339.85" y1="258.2" x2="343.35" y2="258.2" stroke="#8a8a8a" stroke-width="0.9"/>
<line x1="282.5" y1="271.2" x2="309.5" y2="271.2" stroke="#8a8a8a" stroke-width="0.9"/>
<circle cx="341.85" cy="258.2" r="1.45" fill="#111111"/>
<circle cx="295.53" cy="271.2" r="1.45" fill="#111111"/>
<rect x="244.8" y="280.15" width="101.4" height="28.3" fill="#fff" stroke="#dadada" stroke-width="0.9"/>
<rect x="237" y="280.15" width="7.8" height="28.3" fill="#d3d3d3" stroke="#dadada" stroke-width="0.6"/>
<text x="242.7" y="294.3" font-size="5.3" fill="#484848" text-anchor="middle" font-weight="normal" stroke="#484848" stroke-width="0.08" transform="rotate(-90 242.7 294.3)">61-65</text>
<line x1="262" y1="280.15" x2="262" y2="308.45" stroke="#999" stroke-width="0.5" stroke-dasharray="0.8 0.8"/>
<text x="235.8" y="289.95" font-size="5" fill="#8a8a8a" text-anchor="end" font-weight="normal" stroke="#8a8a8a" stroke-width="0.14">ProtRS</text>
<text x="235.8" y="302.95" font-size="5" fill="#8a8a8a" text-anchor="end" font-weight="normal" stroke="#8a8a8a" stroke-width="0.14">PRS</text>
<text x="265.9" y="289.95" font-size="5.1" fill="#8ccbe6" text-anchor="start" font-weight="normal" stroke="#8ccbe6" stroke-width="0.14">P &lt; 0.0001</text>
<line x1="342.5" y1="288.15" x2="346" y2="288.15" stroke="#b8def0" stroke-width="0.9"/>
<line x1="288.4" y1="301.15" x2="310.2" y2="301.15" stroke="#b8def0" stroke-width="0.9"/>
<circle cx="344.5" cy="288.15" r="1.45" fill="#4aa8dc"/>
<circle cx="298.85" cy="301.15" r="1.45" fill="#4aa8dc"/>
<rect x="244.8" y="310.1" width="101.4" height="28.3" fill="#fff" stroke="#dadada" stroke-width="0.9"/>
<rect x="237" y="310.1" width="7.8" height="28.3" fill="#d3d3d3" stroke="#dadada" stroke-width="0.6"/>
<text x="242.7" y="324.25" font-size="5.3" fill="#484848" text-anchor="middle" font-weight="normal" stroke="#484848" stroke-width="0.08" transform="rotate(-90 242.7 324.25)">66-70</text>
<line x1="262" y1="310.1" x2="262" y2="338.4" stroke="#999" stroke-width="0.5" stroke-dasharray="0.8 0.8"/>
<text x="235.8" y="319.9" font-size="5" fill="#8a8a8a" text-anchor="end" font-weight="normal" stroke="#8a8a8a" stroke-width="0.14">ProtRS</text>
<text x="235.8" y="332.9" font-size="5" fill="#8a8a8a" text-anchor="end" font-weight="normal" stroke="#8a8a8a" stroke-width="0.14">PRS</text>
<text x="265.9" y="319.9" font-size="5.1" fill="#3aa088" text-anchor="start" font-weight="normal" stroke="#3aa088" stroke-width="0.14">P &lt; 0.0001</text>
<line x1="338.35" y1="318.1" x2="341.85" y2="318.1" stroke="#98cdb8" stroke-width="0.9"/>
<line x1="304.7" y1="331.1" x2="320" y2="331.1" stroke="#98cdb8" stroke-width="0.9"/>
<circle cx="340.35" cy="318.1" r="1.45" fill="#008a64"/>
<circle cx="311.8" cy="331.1" r="1.45" fill="#008a64"/>
<rect x="244.8" y="340.05" width="101.4" height="28.3" fill="#fff" stroke="#dadada" stroke-width="0.9"/>
<rect x="237" y="340.05" width="7.8" height="28.3" fill="#d3d3d3" stroke="#dadada" stroke-width="0.6"/>
<text x="242.7" y="354.2" font-size="5.3" fill="#484848" text-anchor="middle" font-weight="normal" stroke="#484848" stroke-width="0.08" transform="rotate(-90 242.7 354.2)">71-75</text>
<line x1="262" y1="340.05" x2="262" y2="368.35" stroke="#999" stroke-width="0.5" stroke-dasharray="0.8 0.8"/>
<text x="235.8" y="349.85" font-size="5" fill="#8a8a8a" text-anchor="end" font-weight="normal" stroke="#8a8a8a" stroke-width="0.14">ProtRS</text>
<text x="235.8" y="362.85" font-size="5" fill="#8a8a8a" text-anchor="end" font-weight="normal" stroke="#8a8a8a" stroke-width="0.14">PRS</text>
<text x="265.9" y="349.85" font-size="5.1" fill="#dcb040" text-anchor="start" font-weight="normal" stroke="#dcb040" stroke-width="0.14">P &lt; 0.0001</text>
<line x1="342.34" y1="348.05" x2="345.84" y2="348.05" stroke="#eedc98" stroke-width="0.9"/>
<line x1="297.7" y1="361.05" x2="311.6" y2="361.05" stroke="#eedc98" stroke-width="0.9"/>
<circle cx="344.34" cy="348.05" r="1.45" fill="#d49e14"/>
<circle cx="304.5" cy="361.05" r="1.45" fill="#d49e14"/>
<rect x="244.8" y="370" width="101.4" height="28.3" fill="#fff" stroke="#dadada" stroke-width="0.9"/>
<rect x="237" y="370" width="7.8" height="28.3" fill="#d3d3d3" stroke="#dadada" stroke-width="0.6"/>
<text x="242.7" y="384.15" font-size="5.3" fill="#484848" text-anchor="middle" font-weight="normal" stroke="#484848" stroke-width="0.08" transform="rotate(-90 242.7 384.15)">76-80</text>
<line x1="262" y1="370" x2="262" y2="398.3" stroke="#999" stroke-width="0.5" stroke-dasharray="0.8 0.8"/>
<text x="235.8" y="379.8" font-size="5" fill="#8a8a8a" text-anchor="end" font-weight="normal" stroke="#8a8a8a" stroke-width="0.14">ProtRS</text>
<text x="235.8" y="392.8" font-size="5" fill="#8a8a8a" text-anchor="end" font-weight="normal" stroke="#8a8a8a" stroke-width="0.14">PRS</text>
<text x="265.9" y="379.8" font-size="5.1" fill="#3a7aa6" text-anchor="start" font-weight="normal" stroke="#3a7aa6" stroke-width="0.14">P &lt; 0.0001</text>
<line x1="340.01" y1="378" x2="343.51" y2="378" stroke="#a8cadc" stroke-width="0.9"/>
<line x1="296.7" y1="391" x2="313" y2="391" stroke="#a8cadc" stroke-width="0.9"/>
<circle cx="342.01" cy="378" r="1.45" fill="#0a5a8a"/>
<circle cx="305.16" cy="391" r="1.45" fill="#0a5a8a"/>
<rect x="244.8" y="399.95" width="101.4" height="28.3" fill="#fff" stroke="#dadada" stroke-width="0.9"/>
<rect x="237" y="399.95" width="7.8" height="28.3" fill="#d3d3d3" stroke="#dadada" stroke-width="0.6"/>
<text x="242.7" y="414.1" font-size="5.3" fill="#484848" text-anchor="middle" font-weight="normal" stroke="#484848" stroke-width="0.08" transform="rotate(-90 242.7 414.1)">81+</text>
<line x1="262" y1="399.95" x2="262" y2="428.25" stroke="#999" stroke-width="0.5" stroke-dasharray="0.8 0.8"/>
<text x="235.8" y="409.75" font-size="5" fill="#8a8a8a" text-anchor="end" font-weight="normal" stroke="#8a8a8a" stroke-width="0.14">ProtRS</text>
<text x="235.8" y="422.75" font-size="5" fill="#8a8a8a" text-anchor="end" font-weight="normal" stroke="#8a8a8a" stroke-width="0.14">PRS</text>
<text x="265.9" y="409.75" font-size="5.1" fill="#c08a50" text-anchor="start" font-weight="normal" stroke="#c08a50" stroke-width="0.14">P &lt; 0.0001</text>
<line x1="342.5" y1="407.95" x2="346" y2="407.95" stroke="#e4d4b8" stroke-width="0.9"/>
<line x1="291" y1="420.95" x2="310.6" y2="420.95" stroke="#e4d4b8" stroke-width="0.9"/>
<circle cx="344.5" cy="407.95" r="1.45" fill="#b0561a"/>
<circle cx="300.51" cy="420.95" r="1.45" fill="#b0561a"/>
<line x1="245.4" y1="428.25" x2="245.4" y2="429.45" stroke="#bbb" stroke-width="0.5"/>
<text x="245.4" y="434.2" font-size="5" fill="#888" text-anchor="middle" font-weight="normal" stroke="#888" stroke-width="0.14">0.4</text>
<line x1="262" y1="428.25" x2="262" y2="429.45" stroke="#bbb" stroke-width="0.5"/>
<text x="262" y="434.2" font-size="5" fill="#888" text-anchor="middle" font-weight="normal" stroke="#888" stroke-width="0.14">0.5</text>
<line x1="278.6" y1="428.25" x2="278.6" y2="429.45" stroke="#bbb" stroke-width="0.5"/>
<text x="278.6" y="434.2" font-size="5" fill="#888" text-anchor="middle" font-weight="normal" stroke="#888" stroke-width="0.14">0.6</text>
<line x1="295.2" y1="428.25" x2="295.2" y2="429.45" stroke="#bbb" stroke-width="0.5"/>
<text x="295.2" y="434.2" font-size="5" fill="#888" text-anchor="middle" font-weight="normal" stroke="#888" stroke-width="0.14">0.7</text>
<line x1="311.8" y1="428.25" x2="311.8" y2="429.45" stroke="#bbb" stroke-width="0.5"/>
<text x="311.8" y="434.2" font-size="5" fill="#888" text-anchor="middle" font-weight="normal" stroke="#888" stroke-width="0.14">0.8</text>
<line x1="328.4" y1="428.25" x2="328.4" y2="429.45" stroke="#bbb" stroke-width="0.5"/>
<text x="328.4" y="434.2" font-size="5" fill="#888" text-anchor="middle" font-weight="normal" stroke="#888" stroke-width="0.14">0.9</text>
<line x1="345" y1="428.25" x2="345" y2="429.45" stroke="#bbb" stroke-width="0.5"/>
<text x="345" y="434.2" font-size="5" fill="#888" text-anchor="middle" font-weight="normal" stroke="#888" stroke-width="0.14">1.0</text>
<text x="295.6" y="440.6" font-size="6.3" fill="#1e1e1e" text-anchor="middle" font-weight="normal" stroke="#1e1e1e" stroke-width="0.25">ROC AUC</text>
<text x="216.6" y="339.23" font-size="6.3" fill="#1e1e1e" text-anchor="middle" font-weight="normal" stroke="#1e1e1e" stroke-width="0.25" transform="rotate(-90 216.6 339.23)">Classifier</text>
<rect x="376.6" y="251" width="177" height="177.6" fill="none" stroke="#b0b0b0" stroke-width="0.9"/>
<line x1="377.1" y1="428.1" x2="553.1" y2="251.5" stroke="#d8d8d8" stroke-width="0.7"/>
<line x1="382.8" y1="428.6" x2="382.8" y2="430.6" stroke="#b0b0b0" stroke-width="0.6"/>
<text x="382.8" y="436.2" font-size="5.3" fill="#1e1e1e" text-anchor="middle" font-weight="normal" stroke="#1e1e1e" stroke-width="0.2">1.0</text>
<line x1="415.62" y1="428.6" x2="415.62" y2="430.6" stroke="#b0b0b0" stroke-width="0.6"/>
<text x="415.62" y="436.2" font-size="5.3" fill="#1e1e1e" text-anchor="middle" font-weight="normal" stroke="#1e1e1e" stroke-width="0.2">0.8</text>
<line x1="448.44" y1="428.6" x2="448.44" y2="430.6" stroke="#b0b0b0" stroke-width="0.6"/>
<text x="448.44" y="436.2" font-size="5.3" fill="#1e1e1e" text-anchor="middle" font-weight="normal" stroke="#1e1e1e" stroke-width="0.2">0.6</text>
<line x1="481.26" y1="428.6" x2="481.26" y2="430.6" stroke="#b0b0b0" stroke-width="0.6"/>
<text x="481.26" y="436.2" font-size="5.3" fill="#1e1e1e" text-anchor="middle" font-weight="normal" stroke="#1e1e1e" stroke-width="0.2">0.4</text>
<line x1="514.08" y1="428.6" x2="514.08" y2="430.6" stroke="#b0b0b0" stroke-width="0.6"/>
<text x="514.08" y="436.2" font-size="5.3" fill="#1e1e1e" text-anchor="middle" font-weight="normal" stroke="#1e1e1e" stroke-width="0.2">0.2</text>
<line x1="546.9" y1="428.6" x2="546.9" y2="430.6" stroke="#b0b0b0" stroke-width="0.6"/>
<text x="546.9" y="436.2" font-size="5.3" fill="#1e1e1e" text-anchor="middle" font-weight="normal" stroke="#1e1e1e" stroke-width="0.2">0.0</text>
<line x1="374.6" y1="422.5" x2="376.6" y2="422.5" stroke="#b0b0b0" stroke-width="0.6"/>
<text x="371.5" y="422.5" font-size="5.3" fill="#1e1e1e" text-anchor="middle" font-weight="normal" stroke="#1e1e1e" stroke-width="0.2" transform="rotate(-90 371.5 422.5)">0.0</text>
<line x1="374.6" y1="389.7" x2="376.6" y2="389.7" stroke="#b0b0b0" stroke-width="0.6"/>
<text x="371.5" y="389.7" font-size="5.3" fill="#1e1e1e" text-anchor="middle" font-weight="normal" stroke="#1e1e1e" stroke-width="0.2" transform="rotate(-90 371.5 389.7)">0.2</text>
<line x1="374.6" y1="356.9" x2="376.6" y2="356.9" stroke="#b0b0b0" stroke-width="0.6"/>
<text x="371.5" y="356.9" font-size="5.3" fill="#1e1e1e" text-anchor="middle" font-weight="normal" stroke="#1e1e1e" stroke-width="0.2" transform="rotate(-90 371.5 356.9)">0.4</text>
<line x1="374.6" y1="324.1" x2="376.6" y2="324.1" stroke="#b0b0b0" stroke-width="0.6"/>
<text x="371.5" y="324.1" font-size="5.3" fill="#1e1e1e" text-anchor="middle" font-weight="normal" stroke="#1e1e1e" stroke-width="0.2" transform="rotate(-90 371.5 324.1)">0.6</text>
<line x1="374.6" y1="291.3" x2="376.6" y2="291.3" stroke="#b0b0b0" stroke-width="0.6"/>
<text x="371.5" y="291.3" font-size="5.3" fill="#1e1e1e" text-anchor="middle" font-weight="normal" stroke="#1e1e1e" stroke-width="0.2" transform="rotate(-90 371.5 291.3)">0.8</text>
<line x1="374.6" y1="258.5" x2="376.6" y2="258.5" stroke="#b0b0b0" stroke-width="0.6"/>
<text x="371.5" y="258.5" font-size="5.3" fill="#1e1e1e" text-anchor="middle" font-weight="normal" stroke="#1e1e1e" stroke-width="0.2" transform="rotate(-90 371.5 258.5)">1.0</text>
<text x="365.8" y="339.8" font-size="5.5" fill="#222" text-anchor="middle" font-weight="normal" stroke="#222" stroke-width="0.14" transform="rotate(-90 365.8 339.8)">Sensitivity</text>
<text x="465.1" y="442" font-size="5.5" fill="#222" text-anchor="middle" font-weight="normal" stroke="#222" stroke-width="0.14">Specificity</text>
<path d="M382.8 422.5L396.26 422.5L396.26 414.3L399.37 414.3L399.37 392.98L408.73 389.7L408.73 373.3L410.37 355.26L419.56 338.86L430.22 321.97L442.86 321.97L442.86 305.08L446.31 297.86L456.64 288.02L464.85 274.9L472.07 267.03L534.26 267.03L534.26 258.5L546.9 258.5" fill="none" stroke="#9cd6ec" stroke-width="0.7" stroke-dasharray="1.1 1.1"/>
<path d="M382.8 422.5L384.44 419.22L384.44 412.66L387.72 406.1L391.99 388.06L396.75 381.5L401.34 366.74L405.28 358.38L408.4 355.26L411.85 343.78L418.9 338.86L425.96 331.64L428.42 326.23L442.86 326.23L442.86 321.97L451.72 321.97L451.72 315.74L455.33 306.72L462.39 306.72L462.39 300.48L474.86 300.48L474.86 279L495.04 279L495.04 273.92L501.12 273.92L501.12 267.03L520.15 267.03L520.15 262.93L532.13 262.93L532.13 258.5L546.9 258.5" fill="none" stroke="#3d3d3d" stroke-width="0.7" stroke-dasharray="1.1 1.1"/>
<path d="M382.8 422.5L384.29 422.5L384.29 417.03L385.78 417.03L385.78 411.57L387.28 411.57L387.28 404.28L388.77 404.28L388.77 398.81L390.26 398.81L390.26 393.34L391.75 393.34L391.75 389.7L393.24 389.7L393.24 387.88L394.73 387.88L394.73 384.23L396.23 384.23L396.23 380.59L397.72 380.59L397.72 378.77L399.21 378.77L399.21 375.12L400.7 375.12L400.7 371.48L403.69 371.48L403.69 369.66L405.18 369.66L405.18 366.01L406.67 366.01L406.67 362.37L408.16 362.37L408.16 360.54L409.65 360.54L409.65 356.9L411.14 356.9L411.14 353.26L414.13 353.26L414.13 347.79L417.11 347.79L417.11 342.32L418.6 342.32L418.6 340.5L420.1 340.5L420.1 338.68L421.59 338.68L421.59 335.03L423.08 335.03L423.08 333.21L424.57 333.21L424.57 331.39L426.06 331.39L426.06 327.74L429.05 327.74L429.05 322.28L430.54 322.28L430.54 320.46L432.03 320.46L432.03 316.81L436.51 316.81L436.51 313.17L440.98 313.17L440.98 309.52L442.47 309.52L442.47 307.7L446.95 307.7L446.95 305.88L448.44 305.88L448.44 304.06L449.93 304.06L449.93 302.23L452.92 302.23L452.92 300.41L457.39 300.41L457.39 296.77L458.88 296.77L458.88 294.94L461.87 294.94L461.87 293.12L464.85 293.12L464.85 289.48L472.31 289.48L472.31 287.66L473.8 287.66L473.8 284.01L479.77 284.01L479.77 282.19L482.75 282.19L482.75 280.37L485.74 280.37L485.74 278.54L490.21 278.54L490.21 276.72L491.7 276.72L491.7 274.9L496.18 274.9L496.18 273.08L502.15 273.08L502.15 269.43L509.6 269.43L509.6 267.61L512.59 267.61L512.59 265.79L524.52 265.79L524.52 263.97L526.01 263.97L526.01 262.14L536.46 262.14L536.46 260.32L539.44 260.32L539.44 258.5L546.9 258.5" fill="none" stroke="#2f9c84" stroke-width="0.7" stroke-dasharray="1.1 1.1"/>
<path d="M382.8 422.5L384.29 422.5L384.29 411.57L385.78 411.57L385.78 404.28L387.28 404.28L387.28 391.52L388.77 391.52L388.77 382.41L390.26 382.41L390.26 378.77L391.75 378.77L391.75 376.94L393.24 376.94L393.24 373.3L396.23 373.3L396.23 367.83L397.72 367.83L397.72 366.01L399.21 366.01L399.21 360.54L400.7 360.54L400.7 358.72L402.19 358.72L402.19 355.08L403.69 355.08L403.69 353.26L405.18 353.26L405.18 351.43L406.67 351.43L406.67 345.97L408.16 345.97L408.16 342.32L411.14 342.32L411.14 340.5L412.64 340.5L412.64 336.86L414.13 336.86L414.13 333.21L415.62 333.21L415.62 329.57L417.11 329.57L417.11 327.74L418.6 327.74L418.6 325.92L420.1 325.92L420.1 324.1L421.59 324.1L421.59 322.28L424.57 322.28L424.57 320.46L426.06 320.46L426.06 314.99L427.55 314.99L427.55 313.17L430.54 313.17L430.54 309.52L432.03 309.52L432.03 307.7L435.01 307.7L435.01 305.88L438 305.88L438 304.06L442.47 304.06L442.47 302.23L443.96 302.23L443.96 300.41L445.46 300.41L445.46 298.59L449.93 298.59L449.93 296.77L452.92 296.77L452.92 293.12L457.39 293.12L457.39 291.3L461.87 291.3L461.87 287.66L463.36 287.66L463.36 285.83L467.83 285.83L467.83 284.01L470.82 284.01L470.82 282.19L475.29 282.19L475.29 280.37L482.75 280.37L482.75 276.72L485.74 276.72L485.74 274.9L494.69 274.9L494.69 271.26L499.16 271.26L499.16 269.43L502.15 269.43L502.15 267.61L509.6 267.61L509.6 265.79L517.06 265.79L517.06 263.97L521.54 263.97L521.54 262.14L530.49 262.14L530.49 260.32L537.95 260.32L537.95 258.5L546.9 258.5" fill="none" stroke="#3a7fa8" stroke-width="0.7" stroke-dasharray="1.1 1.1"/>
<path d="M382.8 422.5L384.29 422.5L384.29 407.92L385.78 407.92L385.78 393.34L387.28 393.34L387.28 378.77L388.77 378.77L388.77 369.66L390.26 369.66L390.26 364.19L391.75 364.19L391.75 358.72L393.24 358.72L393.24 351.43L394.73 351.43L394.73 347.79L396.23 347.79L396.23 344.14L397.72 344.14L397.72 340.5L399.21 340.5L399.21 335.03L400.7 335.03L400.7 333.21L402.19 333.21L402.19 329.57L403.69 329.57L403.69 325.92L405.18 325.92L405.18 322.28L406.67 322.28L406.67 320.46L409.65 320.46L409.65 318.63L411.14 318.63L411.14 316.81L412.64 316.81L412.64 314.99L417.11 314.99L417.11 313.17L418.6 313.17L418.6 311.34L421.59 311.34L421.59 309.52L423.08 309.52L423.08 307.7L424.57 307.7L424.57 304.06L426.06 304.06L426.06 302.23L432.03 302.23L432.03 300.41L436.51 300.41L436.51 298.59L438 298.59L438 296.77L440.98 296.77L440.98 294.94L445.46 294.94L445.46 293.12L451.42 293.12L451.42 291.3L454.41 291.3L454.41 289.48L457.39 289.48L457.39 287.66L461.87 287.66L461.87 285.83L464.85 285.83L464.85 284.01L472.31 284.01L472.31 282.19L473.8 282.19L473.8 280.37L479.77 280.37L479.77 278.54L482.75 278.54L482.75 276.72L487.23 276.72L487.23 274.9L490.21 274.9L490.21 273.08L497.67 273.08L497.67 271.26L500.65 271.26L500.65 269.43L505.13 269.43L505.13 267.61L512.59 267.61L512.59 265.79L518.56 265.79L518.56 263.97L534.97 263.97L534.97 262.14L537.95 262.14L537.95 260.32L540.93 260.32L540.93 258.5L546.9 258.5" fill="none" stroke="#e0ba40" stroke-width="0.7" stroke-dasharray="1.1 1.1"/>
<path d="M382.8 422.5L382.8 265.06L386.08 260.96L392.65 259.32L415.62 258.5L546.9 258.5" fill="none" stroke="#3d3d3d" stroke-width="0.9"/>
<path d="M382.8 422.5L382.8 263.42L386.08 260.14L391 258.5L546.9 258.5" fill="none" stroke="#9cd6ec" stroke-width="0.9"/>
<path d="M382.8 422.5L382.8 266.7L387.72 261.78L395.93 260.14L423.82 258.5L546.9 258.5" fill="none" stroke="#e0ba40" stroke-width="0.9"/>
<path d="M382.8 422.5L382.8 265.06L387.72 260.96L399.21 259.32L415.62 258.5L546.9 258.5" fill="none" stroke="#3a7fa8" stroke-width="0.9"/>
<path d="M382.8 422.5L383.29 340.5L383.62 265.06L386.08 260.96L394.29 260.14L404.13 258.83L423.82 258.5L546.9 258.5" fill="none" stroke="#2f9c84" stroke-width="0.9"/>
<line x1="383.6" y1="422.5" x2="383.6" y2="262" stroke="#7fbfb3" stroke-width="1.2"/>
<text x="464.9" y="344.3" font-size="5.6" fill="#3d3d3d" text-anchor="start" font-weight="normal" stroke="#3d3d3d" stroke-width="0.14">APOE2+, ProtRS (AUC: 0.999)</text>
<text x="464.9" y="349.22" font-size="5.6" fill="#3d3d3d" text-anchor="start" font-weight="normal" stroke="#3d3d3d" stroke-width="0.14">APOE2+, PRS (AUC: 0.69)</text>
<text x="464.9" y="354.14" font-size="5.6" fill="#9cd6ec" text-anchor="start" font-weight="normal" stroke="#9cd6ec" stroke-width="0.14">APOE23, ProtRS (AUC: 1)</text>
<text x="464.9" y="359.06" font-size="5.6" fill="#9cd6ec" text-anchor="start" font-weight="normal" stroke="#9cd6ec" stroke-width="0.14">APOE23, PRS (AUC: 0.699)</text>
<text x="464.9" y="363.98" font-size="5.6" fill="#2f9c84" text-anchor="start" font-weight="normal" stroke="#2f9c84" stroke-width="0.14">APOE33, ProtRS (AUC: 0.997)</text>
<text x="464.9" y="368.9" font-size="5.6" fill="#2f9c84" text-anchor="start" font-weight="normal" stroke="#2f9c84" stroke-width="0.14">APOE33, PRS (AUC: 0.748)</text>
<text x="464.9" y="373.82" font-size="5.6" fill="#e0ba40" text-anchor="start" font-weight="normal" stroke="#e0ba40" stroke-width="0.14">APOE34, ProtRS (AUC: 0.989)</text>
<text x="464.9" y="378.74" font-size="5.6" fill="#e0ba40" text-anchor="start" font-weight="normal" stroke="#e0ba40" stroke-width="0.14">APOE34, PRS (AUC: 0.8)</text>
<text x="464.9" y="383.66" font-size="5.6" fill="#3a7fa8" text-anchor="start" font-weight="normal" stroke="#3a7fa8" stroke-width="0.14">APOE4+, ProtRS (AUC: 0.991)</text>
<text x="464.9" y="388.58" font-size="5.6" fill="#3a7fa8" text-anchor="start" font-weight="normal" stroke="#3a7fa8" stroke-width="0.14">APOE4+, PRS (AUC: 0.775)</text>
<rect x="593.9" y="252" width="99.4" height="33.2" fill="#fff" stroke="#dadada" stroke-width="0.9"/>
<rect x="586.1" y="252" width="7.8" height="33.2" fill="#d3d3d3" stroke="#dadada" stroke-width="0.6"/>
<text x="591.8" y="268.6" font-size="5.3" fill="#484848" text-anchor="middle" font-weight="normal" stroke="#484848" stroke-width="0.08" transform="rotate(-90 591.8 268.6)">APOE2+</text>
<line x1="610" y1="252" x2="610" y2="285.2" stroke="#999" stroke-width="0.5" stroke-dasharray="0.8 0.8"/>
<text x="585" y="263" font-size="5" fill="#8a8a8a" text-anchor="end" font-weight="normal" stroke="#8a8a8a" stroke-width="0.14">ProtRS</text>
<text x="585" y="278.1" font-size="5" fill="#8a8a8a" text-anchor="end" font-weight="normal" stroke="#8a8a8a" stroke-width="0.14">PRS</text>
<text x="614.3" y="263.3" font-size="5.1" fill="#222222" text-anchor="start" font-weight="normal" stroke="#222222" stroke-width="0.14">P &lt; 0.0001</text>
<line x1="690.63" y1="261.2" x2="694.13" y2="261.2" stroke="#8a8a8a" stroke-width="0.9"/>
<line x1="627.4" y1="276.3" x2="655.3" y2="276.3" stroke="#8a8a8a" stroke-width="0.9"/>
<circle cx="692.63" cy="261.2" r="1.45" fill="#111111"/>
<circle cx="641.46" cy="276.3" r="1.45" fill="#111111"/>
<rect x="593.9" y="287.7" width="99.4" height="33.2" fill="#fff" stroke="#dadada" stroke-width="0.9"/>
<rect x="586.1" y="287.7" width="7.8" height="33.2" fill="#d3d3d3" stroke="#dadada" stroke-width="0.6"/>
<text x="591.8" y="304.3" font-size="5.3" fill="#484848" text-anchor="middle" font-weight="normal" stroke="#484848" stroke-width="0.08" transform="rotate(-90 591.8 304.3)">APOE23</text>
<line x1="610" y1="287.7" x2="610" y2="320.9" stroke="#999" stroke-width="0.5" stroke-dasharray="0.8 0.8"/>
<text x="585" y="298.7" font-size="5" fill="#8a8a8a" text-anchor="end" font-weight="normal" stroke="#8a8a8a" stroke-width="0.14">ProtRS</text>
<text x="585" y="313.8" font-size="5" fill="#8a8a8a" text-anchor="end" font-weight="normal" stroke="#8a8a8a" stroke-width="0.14">PRS</text>
<text x="614.3" y="299" font-size="5.1" fill="#8ccbe6" text-anchor="start" font-weight="normal" stroke="#8ccbe6" stroke-width="0.14">P &lt; 0.0001</text>
<line x1="690.8" y1="296.9" x2="694.3" y2="296.9" stroke="#b8def0" stroke-width="0.9"/>
<line x1="627.4" y1="312" x2="659" y2="312" stroke="#b8def0" stroke-width="0.9"/>
<circle cx="692.8" cy="296.9" r="1.45" fill="#4aa8dc"/>
<circle cx="642.95" cy="312" r="1.45" fill="#4aa8dc"/>
<rect x="593.9" y="323.4" width="99.4" height="33.2" fill="#fff" stroke="#dadada" stroke-width="0.9"/>
<rect x="586.1" y="323.4" width="7.8" height="33.2" fill="#d3d3d3" stroke="#dadada" stroke-width="0.6"/>
<text x="591.8" y="340" font-size="5.3" fill="#484848" text-anchor="middle" font-weight="normal" stroke="#484848" stroke-width="0.08" transform="rotate(-90 591.8 340)">APOE33</text>
<line x1="610" y1="323.4" x2="610" y2="356.6" stroke="#999" stroke-width="0.5" stroke-dasharray="0.8 0.8"/>
<text x="585" y="334.4" font-size="5" fill="#8a8a8a" text-anchor="end" font-weight="normal" stroke="#8a8a8a" stroke-width="0.14">ProtRS</text>
<text x="585" y="349.5" font-size="5" fill="#8a8a8a" text-anchor="end" font-weight="normal" stroke="#8a8a8a" stroke-width="0.14">PRS</text>
<text x="614.3" y="334.7" font-size="5.1" fill="#3aa088" text-anchor="start" font-weight="normal" stroke="#3aa088" stroke-width="0.14">P &lt; 0.0001</text>
<line x1="690.3" y1="332.6" x2="693.8" y2="332.6" stroke="#98cdb8" stroke-width="0.9"/>
<line x1="645" y1="347.7" x2="657" y2="347.7" stroke="#98cdb8" stroke-width="0.9"/>
<circle cx="692.3" cy="332.6" r="1.45" fill="#008a64"/>
<circle cx="651.07" cy="347.7" r="1.45" fill="#008a64"/>
<rect x="593.9" y="359.1" width="99.4" height="33.2" fill="#fff" stroke="#dadada" stroke-width="0.9"/>
<rect x="586.1" y="359.1" width="7.8" height="33.2" fill="#d3d3d3" stroke="#dadada" stroke-width="0.6"/>
<text x="591.8" y="375.7" font-size="5.3" fill="#484848" text-anchor="middle" font-weight="normal" stroke="#484848" stroke-width="0.08" transform="rotate(-90 591.8 375.7)">APOE34</text>
<line x1="610" y1="359.1" x2="610" y2="392.3" stroke="#999" stroke-width="0.5" stroke-dasharray="0.8 0.8"/>
<text x="585" y="370.1" font-size="5" fill="#8a8a8a" text-anchor="end" font-weight="normal" stroke="#8a8a8a" stroke-width="0.14">ProtRS</text>
<text x="585" y="385.2" font-size="5" fill="#8a8a8a" text-anchor="end" font-weight="normal" stroke="#8a8a8a" stroke-width="0.14">PRS</text>
<text x="614.3" y="370.4" font-size="5.1" fill="#dcb040" text-anchor="start" font-weight="normal" stroke="#dcb040" stroke-width="0.14">P &lt; 0.0001</text>
<line x1="688.98" y1="368.3" x2="692.48" y2="368.3" stroke="#eedc98" stroke-width="0.9"/>
<line x1="652" y1="383.4" x2="667" y2="383.4" stroke="#eedc98" stroke-width="0.9"/>
<circle cx="690.98" cy="368.3" r="1.45" fill="#d49e14"/>
<circle cx="659.68" cy="383.4" r="1.45" fill="#d49e14"/>
<rect x="593.9" y="394.6" width="99.4" height="33.2" fill="#fff" stroke="#dadada" stroke-width="0.9"/>
<rect x="586.1" y="394.6" width="7.8" height="33.2" fill="#d3d3d3" stroke="#dadada" stroke-width="0.6"/>
<text x="591.8" y="411.2" font-size="5.3" fill="#484848" text-anchor="middle" font-weight="normal" stroke="#484848" stroke-width="0.08" transform="rotate(-90 591.8 411.2)">APOE4+</text>
<line x1="610" y1="394.6" x2="610" y2="427.8" stroke="#999" stroke-width="0.5" stroke-dasharray="0.8 0.8"/>
<text x="585" y="405.6" font-size="5" fill="#8a8a8a" text-anchor="end" font-weight="normal" stroke="#8a8a8a" stroke-width="0.14">ProtRS</text>
<text x="585" y="420.7" font-size="5" fill="#8a8a8a" text-anchor="end" font-weight="normal" stroke="#8a8a8a" stroke-width="0.14">PRS</text>
<text x="614.3" y="405.9" font-size="5.1" fill="#3a7aa6" text-anchor="start" font-weight="normal" stroke="#3a7aa6" stroke-width="0.14">P &lt; 0.0001</text>
<line x1="689.31" y1="403.8" x2="692.81" y2="403.8" stroke="#a8cadc" stroke-width="0.9"/>
<line x1="650" y1="418.9" x2="662" y2="418.9" stroke="#a8cadc" stroke-width="0.9"/>
<circle cx="691.31" cy="403.8" r="1.45" fill="#0a5a8a"/>
<circle cx="655.54" cy="418.9" r="1.45" fill="#0a5a8a"/>
<line x1="593.44" y1="427.8" x2="593.44" y2="429" stroke="#bbb" stroke-width="0.5"/>
<text x="593.44" y="432.5" font-size="5" fill="#888" text-anchor="middle" font-weight="normal" stroke="#888" stroke-width="0.14">0.4</text>
<line x1="610" y1="427.8" x2="610" y2="429" stroke="#bbb" stroke-width="0.5"/>
<text x="610" y="432.5" font-size="5" fill="#888" text-anchor="middle" font-weight="normal" stroke="#888" stroke-width="0.14">0.5</text>
<line x1="626.56" y1="427.8" x2="626.56" y2="429" stroke="#bbb" stroke-width="0.5"/>
<text x="626.56" y="432.5" font-size="5" fill="#888" text-anchor="middle" font-weight="normal" stroke="#888" stroke-width="0.14">0.6</text>
<line x1="643.12" y1="427.8" x2="643.12" y2="429" stroke="#bbb" stroke-width="0.5"/>
<text x="643.12" y="432.5" font-size="5" fill="#888" text-anchor="middle" font-weight="normal" stroke="#888" stroke-width="0.14">0.7</text>
<line x1="659.68" y1="427.8" x2="659.68" y2="429" stroke="#bbb" stroke-width="0.5"/>
<text x="659.68" y="432.5" font-size="5" fill="#888" text-anchor="middle" font-weight="normal" stroke="#888" stroke-width="0.14">0.8</text>
<line x1="676.24" y1="427.8" x2="676.24" y2="429" stroke="#bbb" stroke-width="0.5"/>
<text x="676.24" y="432.5" font-size="5" fill="#888" text-anchor="middle" font-weight="normal" stroke="#888" stroke-width="0.14">0.9</text>
<line x1="692.8" y1="427.8" x2="692.8" y2="429" stroke="#bbb" stroke-width="0.5"/>
<text x="692.8" y="432.5" font-size="5" fill="#888" text-anchor="middle" font-weight="normal" stroke="#888" stroke-width="0.14">1.0</text>
<text x="643.5" y="439.8" font-size="6.3" fill="#1e1e1e" text-anchor="middle" font-weight="normal" stroke="#1e1e1e" stroke-width="0.25">ROC AUC</text>
<text x="566.8" y="339.9" font-size="6.3" fill="#1e1e1e" text-anchor="middle" font-weight="normal" stroke="#1e1e1e" stroke-width="0.25" transform="rotate(-90 566.8 339.9)">Classifier</text>
</svg></body></html>
